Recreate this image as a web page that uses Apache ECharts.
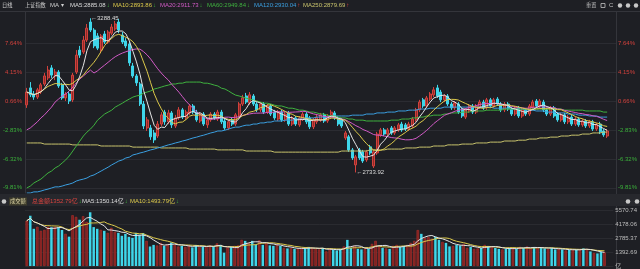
<!DOCTYPE html>
<html>
<head>
<meta charset="utf-8">
<script src="https://cdn.jsdelivr.net/npm/echarts@6/dist/echarts.min.js"></script>
<style>
html, body { margin: 0; padding: 0; background: #1e1f24; }
#chart { width: 640px; height: 269px; }
</style>
</head>
<body>
<div id="chart"></div>
<script>
// 上证指数 日线 + 成交额
var basePrice = 2970; // 百分比刻度的基准价
var pctTicks = [7.64, 4.15, 0.66, -2.83, -6.32, -9.81];
var volTicks = [0, 1392.69, 2785.37, 4178.06, 5570.74];

var opens = [
  2977, 3038, 3016, 3005, 3023, 3052, 3074, 3110, 3081, 3095,
  3049, 3002, 3016, 2995, 3095, 3174, 3167, 3210, 3275, 3246,
  3225, 3174, 3232, 3203, 3235, 3250, 3275, 3228, 3207, 3196,
  3117, 3081, 3052, 2980, 2894, 2894, 2876, 2865, 2908, 2951,
  2916, 2948, 2901, 2930, 2959, 2930, 2948, 2973, 2951, 2919,
  2944, 2905, 2923, 2944, 2926, 2951, 2919, 2894, 2923, 2908,
  2937, 2980, 3009, 2984, 3009, 2980, 2959, 2980, 2951, 2973,
  2951, 2926, 2951, 2923, 2948, 2908, 2930, 2905, 2926, 2944,
  2930, 2898, 2916, 2923, 2941, 2919, 2933, 2948, 2930, 2923,
  2858, 2862, 2815, 2761, 2815, 2808, 2779, 2826, 2757, 2804,
  2869, 2887, 2872, 2894, 2876, 2887, 2908, 2905, 2890, 2901,
  2923, 2959, 2995, 2973, 2998, 3013, 3038, 3023, 2995, 3009,
  2980, 2966, 2980, 2959, 2933, 2955, 2973, 2951, 2969, 2987,
  2966, 2995, 2973, 2998, 2980, 2959, 2980, 2962, 2944, 2966,
  2937, 2959, 2944, 2969, 2991, 2973, 2987, 2959, 2944, 2966,
  2944, 2923, 2941, 2916, 2933, 2908, 2926, 2905, 2919, 2901,
  2916, 2890, 2908, 2883, 2865
];
var closes = [
  3023, 3013, 3005, 3031, 3049, 3081, 3102, 3084, 3095, 3045,
  3002, 3016, 2991, 3084, 3156, 3156, 3210, 3253, 3246, 3189,
  3181, 3225, 3203, 3239, 3257, 3268, 3246, 3203, 3189, 3128,
  3081, 3056, 2980, 2901, 2923, 2862, 2851, 2908, 2941, 2916,
  2948, 2905, 2930, 2959, 2933, 2951, 2973, 2951, 2923, 2944,
  2908, 2923, 2944, 2930, 2951, 2916, 2894, 2916, 2908, 2941,
  2980, 3002, 2987, 3013, 2980, 2959, 2980, 2951, 2973, 2944,
  2930, 2951, 2923, 2944, 2908, 2930, 2908, 2930, 2944, 2916,
  2898, 2923, 2933, 2941, 2919, 2937, 2951, 2930, 2908, 2901,
  2876, 2815, 2786, 2790, 2786, 2775, 2808, 2804, 2808, 2872,
  2887, 2872, 2887, 2876, 2894, 2905, 2887, 2890, 2908, 2926,
  2959, 2987, 2973, 3002, 3016, 3031, 3009, 2995, 3009, 2980,
  2966, 2984, 2951, 2937, 2959, 2973, 2951, 2973, 2987, 2966,
  2995, 2973, 2995, 2980, 2959, 2980, 2962, 2944, 2966, 2937,
  2959, 2944, 2973, 2987, 2973, 2991, 2959, 2944, 2966, 2937,
  2923, 2941, 2916, 2933, 2908, 2926, 2905, 2919, 2901, 2916,
  2890, 2905, 2880, 2869, 2883
];
var lows = [
  2966, 3005, 2995, 2998, 3016, 3045, 3066, 3074, 3066, 3038,
  2995, 2991, 2980, 2987, 3088, 3146, 3160, 3203, 3239, 3181,
  3174, 3163, 3196, 3196, 3228, 3243, 3235, 3196, 3181, 3117,
  3074, 3045, 2973, 2890, 2883, 2851, 2840, 2858, 2901, 2905,
  2908, 2894, 2894, 2923, 2926, 2923, 2941, 2944, 2916, 2912,
  2901, 2894, 2916, 2923, 2919, 2908, 2887, 2887, 2901, 2901,
  2930, 2973, 2980, 2977, 2973, 2951, 2951, 2944, 2944, 2937,
  2923, 2919, 2916, 2916, 2901, 2901, 2901, 2898, 2919, 2908,
  2890, 2890, 2908, 2916, 2912, 2912, 2926, 2923, 2901, 2894,
  2851, 2808, 2779, 2733.92, 2779, 2768, 2772, 2797, 2750, 2797,
  2862, 2865, 2865, 2869, 2869, 2880, 2880, 2883, 2883, 2894,
  2916, 2951, 2966, 2966, 2991, 3005, 3002, 2987, 2987, 2973,
  2959, 2959, 2944, 2930, 2926, 2948, 2944, 2944, 2962, 2959,
  2959, 2966, 2966, 2973, 2951, 2951, 2955, 2937, 2937, 2930,
  2930, 2937, 2937, 2962, 2966, 2966, 2951, 2937, 2937, 2930,
  2916, 2916, 2908, 2908, 2901, 2901, 2898, 2898, 2894, 2894,
  2883, 2883, 2872, 2862, 2858
];
var highs = [
  3038, 3059, 3027, 3038, 3056, 3092, 3117, 3120, 3106, 3102,
  3056, 3023, 3027, 3092, 3174, 3189, 3225, 3268, 3288.45, 3253,
  3235, 3232, 3243, 3246, 3268, 3279, 3286, 3239, 3217, 3203,
  3128, 3088, 3059, 2991, 2933, 2905, 2887, 2919, 2951, 2959,
  2959, 2955, 2941, 2969, 2966, 2959, 2980, 2980, 2959, 2951,
  2951, 2930, 2951, 2951, 2959, 2959, 2926, 2923, 2930, 2948,
  2987, 3013, 3020, 3023, 3016, 2987, 2987, 2987, 2980, 2980,
  2959, 2959, 2959, 2951, 2955, 2937, 2937, 2937, 2951, 2951,
  2937, 2930, 2941, 2948, 2948, 2944, 2959, 2955, 2937, 2930,
  2883, 2869, 2822, 2797, 2822, 2815, 2815, 2833, 2815, 2880,
  2894, 2894, 2894, 2901, 2901, 2912, 2916, 2912, 2916, 2933,
  2966, 2995, 3002, 3009, 3023, 3041, 3049, 3031, 3016, 3016,
  2987, 2991, 2987, 2966, 2966, 2980, 2980, 2980, 2995, 2995,
  3002, 3002, 3002, 3005, 2987, 2987, 2987, 2969, 2973, 2973,
  2966, 2966, 2980, 2995, 2998, 2998, 2995, 2966, 2973, 2973,
  2951, 2948, 2948, 2941, 2941, 2933, 2933, 2926, 2926, 2923,
  2923, 2912, 2916, 2890, 2890
];
// MA20 开头 19 天（窗口不足，从图上读取）
var ma20Lead = [2887, 2894, 2905, 2916, 2930, 2941, 2955, 2969, 2987, 2998,
  3009, 3016, 3027, 3041, 3056, 3070, 3081, 3092, 3102];
var ma60 = [
  2678, 2685, 2696, 2703, 2710, 2721, 2732, 2739, 2750, 2757,
  2768, 2779, 2793, 2811, 2829, 2847, 2865, 2879, 2890, 2904,
  2922, 2933, 2944, 2951, 2958, 2969, 2976, 2983, 2991, 2998,
  3005, 3009, 3012, 3019, 3023, 3027, 3034, 3037, 3041, 3045,
  3048, 3052, 3052, 3055, 3055, 3059, 3059, 3059, 3059, 3059,
  3055, 3055, 3052, 3048, 3045, 3037, 3034, 3027, 3019, 3012,
  3009, 3005, 3001, 2998, 2994, 2991, 2987, 2983, 2983, 2980,
  2976, 2973, 2973, 2969, 2965, 2965, 2962, 2958, 2958, 2955,
  2951, 2951, 2948, 2944, 2944, 2940, 2937, 2937, 2933, 2930,
  2930, 2926, 2926, 2922, 2922, 2922, 2919, 2919, 2919, 2919,
  2919, 2919, 2919, 2922, 2922, 2922, 2926, 2926, 2926, 2930,
  2930, 2933, 2933, 2937, 2937, 2940, 2940, 2940, 2944, 2944,
  2948, 2948, 2948, 2951, 2951, 2951, 2955, 2955, 2955, 2955,
  2958, 2958, 2958, 2958, 2958, 2962, 2962, 2962, 2962, 2962,
  2962, 2962, 2962, 2962, 2962, 2962, 2962, 2962, 2962, 2962,
  2962, 2962, 2958, 2958, 2958, 2958, 2958, 2958, 2955, 2955,
  2955, 2955, 2955, 2951, 2951
];
var ma120 = [
  2660, 2660, 2664, 2664, 2667, 2671, 2674, 2678, 2682, 2682,
  2685, 2689, 2692, 2696, 2703, 2707, 2710, 2714, 2721, 2725,
  2732, 2739, 2746, 2753, 2761, 2768, 2775, 2779, 2786, 2789,
  2797, 2800, 2804, 2807, 2811, 2815, 2818, 2822, 2825, 2829,
  2833, 2836, 2840, 2843, 2847, 2850, 2854, 2858, 2861, 2865,
  2868, 2872, 2876, 2879, 2883, 2883, 2886, 2890, 2894, 2897,
  2897, 2901, 2904, 2904, 2908, 2908, 2912, 2912, 2915, 2915,
  2919, 2919, 2919, 2922, 2922, 2922, 2926, 2926, 2926, 2930,
  2930, 2930, 2933, 2933, 2933, 2933, 2937, 2937, 2937, 2937,
  2937, 2937, 2940, 2940, 2940, 2940, 2944, 2944, 2944, 2948,
  2948, 2948, 2951, 2951, 2951, 2955, 2955, 2955, 2958, 2958,
  2958, 2962, 2962, 2962, 2965, 2965, 2965, 2965, 2969, 2969,
  2969, 2969, 2969, 2969, 2969, 2969, 2969, 2969, 2969, 2969,
  2969, 2969, 2965, 2965, 2965, 2965, 2965, 2962, 2962, 2962,
  2962, 2958, 2958, 2958, 2955, 2955, 2955, 2951, 2951, 2951,
  2948, 2948, 2948, 2944, 2944, 2944, 2940, 2940, 2940, 2937,
  2937, 2937, 2933, 2933, 2933
];
var ma250 = [
  2840, 2840, 2840, 2840, 2840, 2836, 2836, 2836, 2836, 2836,
  2836, 2836, 2836, 2833, 2833, 2833, 2833, 2833, 2833, 2833,
  2833, 2829, 2829, 2829, 2829, 2829, 2829, 2829, 2829, 2829,
  2825, 2825, 2825, 2825, 2825, 2825, 2825, 2825, 2822, 2822,
  2822, 2822, 2822, 2822, 2822, 2822, 2818, 2818, 2818, 2818,
  2818, 2818, 2818, 2818, 2815, 2815, 2815, 2815, 2815, 2815,
  2815, 2815, 2811, 2811, 2811, 2811, 2811, 2811, 2811, 2811,
  2807, 2807, 2807, 2807, 2807, 2807, 2807, 2807, 2807, 2807,
  2807, 2807, 2807, 2807, 2807, 2807, 2807, 2807, 2807, 2811,
  2811, 2811, 2811, 2811, 2811, 2811, 2811, 2815, 2815, 2815,
  2815, 2815, 2818, 2818, 2818, 2818, 2818, 2822, 2822, 2822,
  2822, 2825, 2825, 2825, 2825, 2829, 2829, 2829, 2829, 2833,
  2833, 2833, 2833, 2836, 2836, 2836, 2836, 2840, 2840, 2840,
  2840, 2843, 2843, 2843, 2843, 2847, 2847, 2847, 2847, 2850,
  2850, 2850, 2854, 2854, 2854, 2858, 2858, 2858, 2861, 2861,
  2861, 2865, 2865, 2865, 2868, 2868, 2868, 2872, 2872, 2872,
  2876, 2876, 2876, 2879, 2879
];
// 成交额（亿）
var volumes = [
  4500, 5000, 3700, 3900, 3500, 3600, 3900, 3850, 3900, 3870,
  3580, 3200, 2920, 5050, 4885, 4600, 4950, 4400, 5345, 3870,
  3700, 3600, 3500, 3300, 3800, 3400, 3300, 3000, 3200, 2900,
  2800, 3300, 3100, 3283, 2500, 1942, 2100, 2040, 2300, 2000,
  2150, 2335, 2100, 1942, 2000, 1900, 2050, 1850, 2100, 1900,
  1942, 1900, 2050, 1950, 2250, 2100, 1324, 1850, 1900, 2000,
  2050, 2600, 2500, 2300, 2500, 2150, 2550, 2100, 2300, 2050,
  2000, 2100, 2000, 1800, 1750, 1800, 1700, 1750, 1750, 1750,
  1900, 1800, 1700, 1650, 1800, 1452, 1750, 1600, 1550, 1700,
  1942, 2600, 1800, 2000, 1700, 1650, 1700, 1700, 2200, 2500,
  2000, 1800, 1750, 1700, 2000, 2100, 1900, 2000, 2100, 2300,
  2500, 3577, 3200, 2800, 2900, 2700, 2900, 2600, 2400, 2300,
  1950, 2000, 2100, 2040, 2200, 1800, 1900, 1700, 1750, 1800,
  2100, 2000, 1950, 1800, 1700, 1650, 1700, 1800, 1800, 1700,
  1900, 1800, 1942, 1750, 1850, 1850, 1800, 1750, 1700, 1800,
  1650, 1700, 1650, 1550, 1600, 1600, 1650, 1650, 1750, 1700,
  1450, 1300, 1250, 1400, 1352.79
];
var maLegend = [
  { label: 'MA5:2885.08', up: false, color: '#dcdcdc', x: 70 },
  { label: 'MA10:2893.86', up: false, color: '#dcc94a', x: 113 },
  { label: 'MA20:2911.73', up: false, color: '#d15ac6', x: 160 },
  { label: 'MA60:2949.84', up: false, color: '#3fb13f', x: 207 },
  { label: 'MA120:2930.04', up: true, color: '#3b9fe0', x: 254 },
  { label: 'MA250:2879.69', up: true, color: '#c8c36c', x: 303 }
];
var volLegend = [
  { label: '总金额1352.79亿', up: false, color: '#d8433f', x: 32 },
  { label: 'MA5:1350.14亿', up: false, color: '#dcdcdc', x: 82 },
  { label: 'MA10:1493.79亿', up: false, color: '#dcc94a', x: 130 }
];

var UP = '#d2413c', DOWN = '#3fd6ea', GREEN = '#3bb03b';
var FONT = "'Liberation Sans','Noto Sans CJK SC',sans-serif";

function movingAvg(src, len, lead) {
  var out = [];
  for (var i = 0; i < src.length; i++) {
    if (lead && i < lead.length) { out.push(lead[i]); continue; }
    var from = Math.max(0, i - len + 1), sum = 0;
    for (var j = from; j <= i; j++) sum += src[j];
    out.push(+(sum / (i - from + 1)).toFixed(2));
  }
  return out;
}
function pctToPrice(p) { return basePrice * (1 + p / 100); }

var n = closes.length;
var days = [];
for (var i = 0; i < n + 2; i++) days.push(String(i + 1));
var kData = opens.map(function (o, i) { return [o, closes[i], lows[i], highs[i]]; });
var volData = volumes.map(function (v, i) {
  var up = closes[i] >= opens[i];
  return { value: v, itemStyle: { color: up ? '#7e2222' : DOWN, borderColor: up ? '#b3302c' : DOWN, borderWidth: up ? 0.6 : 0 } };
});
var priceTicks = pctTicks.map(pctToPrice);

var chart = echarts.init(document.getElementById('chart'));

function maLine(name, data, color, xi, yi) {
  return {
    name: name, type: 'line', data: data, xAxisIndex: xi, yAxisIndex: yi,
    symbol: 'none', smooth: false, z: 5,
    lineStyle: { width: 1, color: color }
  };
}

var graphics = [
  { type: 'line', shape: { x1: 0, y1: 11.5, x2: 640, y2: 11.5 }, style: { stroke: '#34353b', lineWidth: 1 } },
  { type: 'line', shape: { x1: 616.5, y1: 12, x2: 616.5, y2: 269 }, style: { stroke: '#34353b', lineWidth: 1 } },
  { type: 'rect', shape: { x: 0, y: 194, width: 640, height: 12 }, style: { fill: '#27282d' } },
  { type: 'rect', shape: { x: 9, y: 197.5, width: 18, height: 8 }, style: { fill: '#3d3b2b' } },
  { type: 'circle', shape: { cx: 4, cy: 201.5, r: 2.3 }, style: { fill: '#c8c8c8' } },
  { type: 'circle', shape: { cx: 628, cy: 201.5, r: 2.3 }, style: { fill: '#c8c8c8' } },
  { type: 'circle', shape: { cx: 637, cy: 201.5, r: 2.3 }, style: { fill: '#c8c8c8' } },
  { type: 'circle', shape: { cx: 620, cy: 5.5, r: 2.2 }, style: { fill: '#c8c8c8' } },
  { type: 'circle', shape: { cx: 628, cy: 5.5, r: 2.2 }, style: { fill: '#c8c8c8' } },
  { type: 'circle', shape: { cx: 636, cy: 5.5, r: 2.2 }, style: { fill: '#c8c8c8' } },
  { type: 'rect', shape: { x: 601, y: 3.5, width: 4, height: 4 }, style: { fill: 'none', stroke: '#c0c0c0', lineWidth: 0.8 } }
];
function addText(text, x, y, color, size) {
  graphics.push({
    type: 'text', z: 10,
    style: { text: text, x: x, y: y, fill: color, fontSize: size || 6, fontFamily: FONT, verticalAlign: 'middle' }
  });
}
addText('日线', 2, 5.5, '#cfcfcf', 5.2);
addText('上证指数', 25, 5.5, '#cfcfcf', 5.2);
addText('MA ▾', 50, 5.5, '#cfcfcf');
maLegend.forEach(function (m) { addText(m.label, m.x, 5.5, m.color); });
addText('重置', 586, 5.5, '#b8b8b8', 5.2);
addText('C', 609, 5.5, '#c0c0c0');
addText('成交额', 10, 201.5, '#e0d8a8', 5.2);
volLegend.forEach(function (m) { addText(m.label, m.x, 201.5, m.color); });

var option = {
  backgroundColor: '#1e1f24',
  animation: false,
  graphic: graphics,
  grid: [
    { left: 25, right: 24, top: 12, height: 181 },
    { left: 25, right: 24, top: 210, height: 56.5 }
  ],
  xAxis: [
    { type: 'category', gridIndex: 0, data: days, boundaryGap: true,
      axisLine: { show: false }, axisTick: { show: false }, axisLabel: { show: false }, splitLine: { show: false } },
    { type: 'category', gridIndex: 1, data: days, boundaryGap: true,
      axisLine: { show: false }, axisTick: { show: false }, axisLabel: { show: false }, splitLine: { show: false } }
  ],
  yAxis: [
    { type: 'value', gridIndex: 0, position: 'left', min: 2660, max: 3311,
      axisLine: { show: true, lineStyle: { color: '#34353b' } },
      axisTick: { show: false, customValues: priceTicks },
      axisLabel: {
        customValues: priceTicks, margin: 3, fontSize: 6, fontFamily: FONT,
        formatter: function (v) { return ((v / basePrice - 1) * 100).toFixed(2) + '%'; },
        color: function (v) { return v >= basePrice ? UP : GREEN; }
      },
      splitLine: { show: true, lineStyle: { color: '#2b2c32', width: 1 } } },
    { type: 'value', gridIndex: 0, position: 'right', min: 2660, max: 3311,
      axisLine: { show: false },
      axisTick: { show: false, customValues: priceTicks },
      axisLabel: {
        customValues: priceTicks, margin: 2, fontSize: 6, fontFamily: FONT,
        formatter: function (v) { return ((v / basePrice - 1) * 100).toFixed(2) + '%'; },
        color: function (v) { return v >= basePrice ? UP : GREEN; }
      },
      splitLine: { show: false } },
    { type: 'value', gridIndex: 1, position: 'right', min: 0, max: 5570.74,
      axisLine: { show: false },
      axisTick: { show: false, customValues: volTicks },
      axisLabel: {
        customValues: volTicks, margin: 2, fontSize: 6, fontFamily: FONT, color: '#bdbdbd',
        formatter: function (v) { return v === 0 ? '亿' : v.toFixed(2); }
      },
      splitLine: { show: true, lineStyle: { color: '#2a2b30', width: 1 } } }
  ],
  series: [
    {
      name: '上证指数', type: 'candlestick', xAxisIndex: 0, yAxisIndex: 0,
      data: kData, barWidth: '70%',
      itemStyle: { color: '#8f2a27', color0: DOWN, borderColor: UP, borderColor0: DOWN, borderWidth: 1 },
      markPoint: {
        symbol: 'circle', symbolSize: 1,
        itemStyle: { color: 'rgba(0,0,0,0)' },
        label: {
          show: true, position: 'right', distance: 0, color: '#dcdcdc', fontSize: 6, fontFamily: FONT,
          formatter: function (p) { return '←' + p.value; }
        },
        data: [
          { type: 'max', valueDim: 'highest' },
          { type: 'min', valueDim: 'lowest' }
        ]
      }
    },
    maLine('MA250', ma250, '#c8c36c', 0, 0),
    maLine('MA120', ma120, '#3b9fe0', 0, 0),
    maLine('MA60', ma60, '#3fb13f', 0, 0),
    maLine('MA20', movingAvg(closes, 20, ma20Lead), '#d15ac6', 0, 0),
    maLine('MA10', movingAvg(closes, 10), '#dcc94a', 0, 0),
    maLine('MA5', movingAvg(closes, 5), '#e4e4e4', 0, 0),
    { name: '成交额', type: 'bar', xAxisIndex: 1, yAxisIndex: 2, data: volData, barWidth: '70%' },
    maLine('VMA10', movingAvg(volumes, 10), '#dcc94a', 1, 2),
    maLine('VMA5', movingAvg(volumes, 5), '#e4e4e4', 1, 2)
  ]
};
chart.setOption(option);

// 均线数值后的涨跌箭头
function placeArrows(list, y) {
  list.forEach(function (m) {
    var w = echarts.format.getTextRect
      ? echarts.format.getTextRect(m.label, '6px ' + FONT).width : m.label.length * 3.2;
    graphics.push({
      type: 'text', z: 10,
      style: { text: m.up ? '↑' : '↓', x: m.x + w + 1, y: y, fill: m.up ? UP : GREEN, fontSize: 6, fontFamily: FONT, verticalAlign: 'middle' }
    });
  });
}
placeArrows(maLegend, 5.5);
placeArrows(volLegend, 201.5);
chart.setOption({ graphic: graphics });
</script>
</body>
</html>
